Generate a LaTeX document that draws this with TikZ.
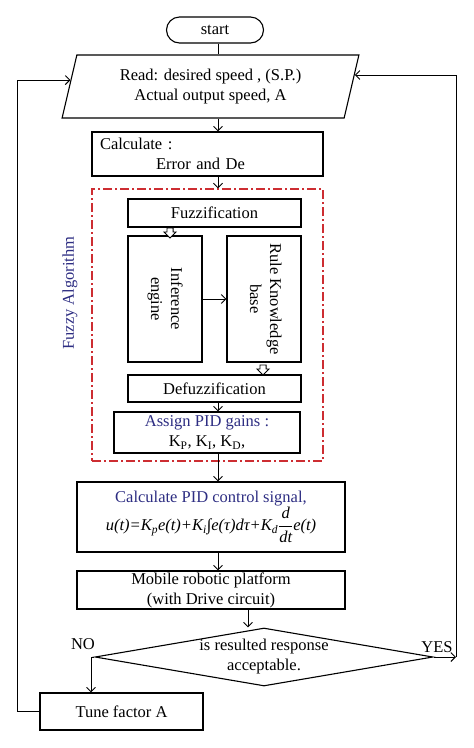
\documentclass[tikz,border=0pt]{standalone}
\usepackage{fontspec}
\setmainfont{Liberation Serif}
\usetikzlibrary{shapes.geometric,shapes.arrows,calc,arrows.meta}
\definecolor{navy}{RGB}{45,45,130}
\definecolor{fuzzred}{RGB}{205,45,50}
\tikzset{
  box/.style={draw,line width=1.1pt,inner sep=0pt,align=center},
  hollow/.style={single arrow,draw,fill=white,line width=0.9pt,shape border rotate=270,
    minimum height=10pt,inner sep=2.6pt,single arrow head extend=3pt,single arrow head indent=0pt},
}
\begin{document}
\begin{tikzpicture}[>={Straight Barb[length=4.5pt,width=9pt]},line width=0.9pt,x=1pt,y=-1pt,
  font=\fontsize{16.5}{20}\selectfont]
\useasboundingbox (0,0) rectangle (474,748);

% columns of the connectors
\coordinate (sp) at (218,0);
\coordinate (mx) at (248,0);
\coordinate (nx) at (91,0);
\coordinate (lx) at (17,0);
\coordinate (rx) at (456,0);

\node[box,rounded corners=13pt,minimum width=97pt,minimum height=26pt] (start) at (215,30) {start};
\node[box,trapezium,trapezium left angle=74,trapezium right angle=106,trapezium stretches=true,
  minimum width=297pt,minimum height=63pt] (read) at (210.5,86.5)
  {Read: desired speed , (S.P.)\\Actual output speed, A};
\node[box,minimum width=231pt,minimum height=44pt,text width=215pt,align=left] (calc) at (207.5,154)
  {Calculate :\\\hspace*{56pt}Error and De};

% fuzzy part
\node[draw=fuzzred,line width=1.3pt,dash pattern=on 9pt off 3pt on 2pt off 3pt,
  minimum width=231pt,minimum height=272pt] (fuzzy) at (207.5,325) {};
\node[navy,rotate=90] (fuzzylbl) at (70,293) {Fuzzy Algorithm};
\node[box,minimum width=173pt,minimum height=28pt] (fz) at (214.5,213) {Fuzzification};
\node[box,minimum width=74pt,minimum height=126pt] (ie) at (165,299)
  {\rotatebox{-90}{\begin{tabular}{@{}c@{}}Inference\\engine\end{tabular}}};
\node[box,minimum width=74pt,minimum height=126pt] (rk) at (264,299)
  {\rotatebox{-90}{\begin{tabular}{@{}c@{}}Rule Knowledge\\base\end{tabular}}};
\node[box,minimum width=173pt,minimum height=27pt] (dz) at (214.5,388.5) {Defuzzification};
\node[box,minimum width=186pt,minimum height=41pt] (gains) at (207,432.5)
  {\textcolor{navy}{Assign PID gains :}\\K\textsubscript{P}, K\textsubscript{I}, K\textsubscript{D},};
\node[hollow] (fz2ie) at (170,231.5) {};
\node[hollow] (rk2dz) at (263,368.5) {};

\node[box,minimum width=268pt,minimum height=70pt] (pid) at (211,517)
  {\textcolor{navy}{Calculate PID control signal,}\\
   {\itshape u(t)=K\textsubscript{p}e(t)+K\textsubscript{i}∫e(τ)dτ+K\textsubscript{d}$\displaystyle\frac{\textit{d}}{\textit{dt}}$e(t)}};
\node[box,minimum width=268pt,minimum height=38pt] (mobile) at (211,590)
  {Mobile robotic platform\\(with Drive circuit)};
\node[box,diamond,minimum width=338pt,minimum height=58pt] (dec) at (264,657)
  {\smash{\makebox[0pt]{\raisebox{-4pt}{\begin{tabular}{@{}c@{}}is resulted response\\acceptable.\end{tabular}}}}};
\node[box,minimum width=163pt,minimum height=37pt] (tune) at (121.5,711.5) {Tune factor A};
\node (no) at (83,644) {NO};
\node (yes) at (437,647) {YES};

\coordinate (lp) at ($(read.top left corner)!0.4!(read.bottom left corner)$);
\coordinate (rp) at ($(read.top right corner)!0.32!(read.bottom right corner)$);

\draw (start.south -| sp) -- (read.north -| sp);
\draw[->] (read.south -| sp) -- (calc.north -| sp);
\draw[->] (calc.south -| sp) -- (fuzzy.north -| sp);
\draw[->] (ie.east) -- (rk.west);
\draw[->] (dz.south -| sp) -- (gains.north -| sp);
\draw[->] (gains.south -| sp) -- (pid.north -| sp);
\draw[->] (pid.south -| sp) -- (mobile.north -| sp);
\draw[->] (mobile.south -| mx) -- (dec.north -| mx);
\draw[->] (dec.west) -| (tune.north -| nx);
\draw[->] (dec.east) -- (dec.east -| rx);
\draw[->] (dec.east -| rx) |- (rp);
\draw[->] (tune.west) -| (lx |- lp) -- (lp);

\end{tikzpicture}
\end{document}
